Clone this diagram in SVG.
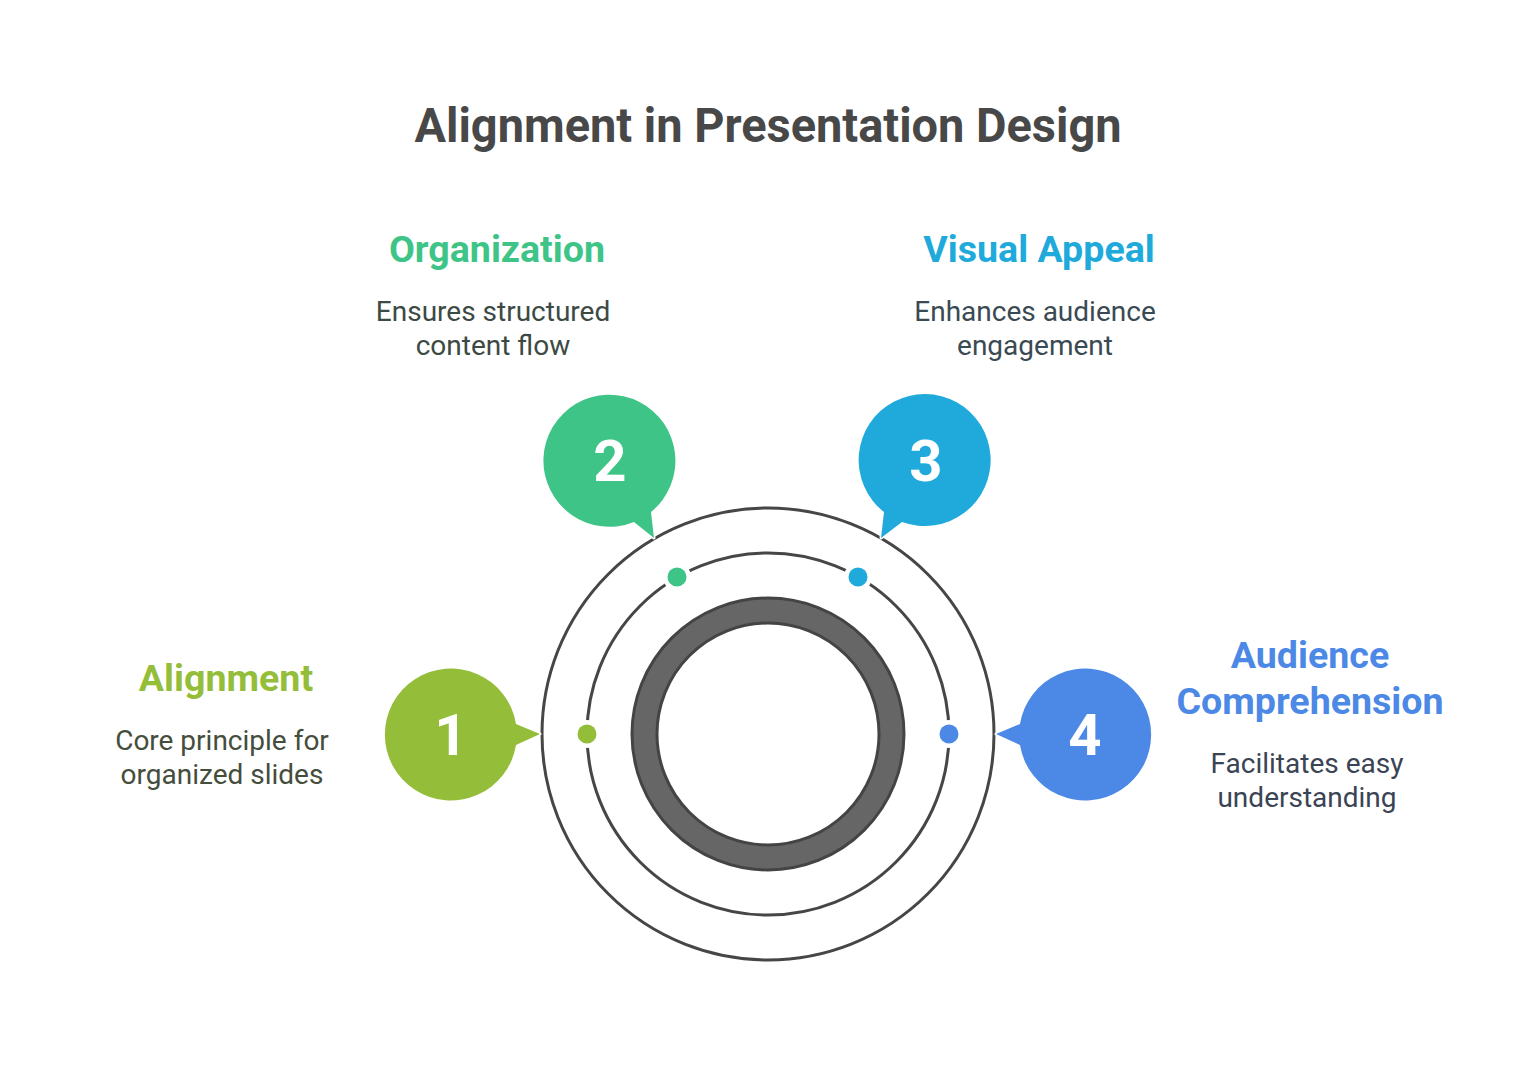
<svg xmlns="http://www.w3.org/2000/svg" width="1536" height="1074" viewBox="0 0 1536 1074">
<style>
.title{font-family:Roboto,"Liberation Sans",sans-serif;font-weight:700;font-size:48px;fill:#484848;text-anchor:middle}
.head{font-family:Roboto,"Liberation Sans",sans-serif;font-weight:700;font-size:37.6px;text-anchor:middle}
.desc{font-family:Roboto,"Liberation Sans",sans-serif;font-size:28px;text-anchor:middle}
.num{font-family:Roboto,"Liberation Sans",sans-serif;font-weight:700;font-size:58px;fill:#fff;text-anchor:middle}
.ring{fill:none;stroke:#464646;stroke-width:3}
.bubble{stroke:#fff;stroke-width:3;stroke-linejoin:round;paint-order:stroke}
</style>
<rect width="1536" height="1074" fill="#fff"/>
<text class="title" x="768" y="142" textLength="707" lengthAdjust="spacingAndGlyphs">Alignment in Presentation Design</text>
<g id="connectors">
<circle class="ring" cx="768" cy="734" r="226"/>
<circle class="ring" cx="768" cy="734" r="181"/>
</g>
<g id="core">
<path d="M768 598a136 136 0 1 1 0 272a136 136 0 1 1 0-272zM768 623a111 111 0 1 0 0 222a111 111 0 1 0 0-222z" fill="#666" stroke="#444" stroke-width="3" fill-rule="evenodd"/>
</g>
<g id="dots">
<circle cx="587" cy="734" r="14" fill="#fff"/><circle cx="587" cy="734" r="9.5" fill="#94BE3A"/>
<circle cx="677" cy="577" r="14" fill="#fff"/><circle cx="677" cy="577" r="9.5" fill="#3EC487"/>
<circle cx="858" cy="577" r="14" fill="#fff"/><circle cx="858" cy="577" r="9.5" fill="#20AADB"/>
<circle cx="949" cy="734" r="14" fill="#fff"/><circle cx="949" cy="734" r="9.5" fill="#4C88E5"/>
</g>
<g id="node1">
<path class="bubble" fill="#94BE3A" d="M516 724L540 734L516 745A66 66 0 1 1 516 724Z"/>
<text class="num" x="451" y="755">1</text>
<text class="head" x="226" y="691" fill="#94BE3A">Alignment</text>
<text class="desc" x="222" y="750" fill="#454d3c">Core principle for</text>
<text class="desc" x="222" y="784" fill="#454d3c">organized slides</text>
</g>
<g id="node2">
<path class="bubble" fill="#3EC487" d="M651 512L654 538L634 522A66 66 0 1 1 651 512Z"/>
<text class="num" x="610" y="481">2</text>
<text class="head" x="497" y="262" fill="#3EC487">Organization</text>
<text class="desc" x="493" y="321" fill="#3d4a44">Ensures structured</text>
<text class="desc" x="493" y="355" fill="#3d4a44">content flow</text>
</g>
<g id="node3">
<path class="bubble" fill="#20AADB" d="M902 522L881 538L884 512A66 66 0 1 1 902 522Z"/>
<text class="num" x="926" y="481">3</text>
<text class="head" x="1039" y="262" fill="#20AADB">Visual Appeal</text>
<text class="desc" x="1035" y="321" fill="#3a4a52">Enhances audience</text>
<text class="desc" x="1035" y="355" fill="#3a4a52">engagement</text>
</g>
<g id="node4">
<path class="bubble" fill="#4C88E5" d="M1020 745L996 734L1020 724A66 66 0 1 1 1020 745Z"/>
<text class="num" x="1085" y="755">4</text>
<text class="head" x="1310" y="668" fill="#4C88E5">Audience</text>
<text class="head" x="1310" y="714" fill="#4C88E5">Comprehension</text>
<text class="desc" x="1307" y="773" fill="#3a4454">Facilitates easy</text>
<text class="desc" x="1307" y="807" fill="#3a4454">understanding</text>
</g>
</svg>
